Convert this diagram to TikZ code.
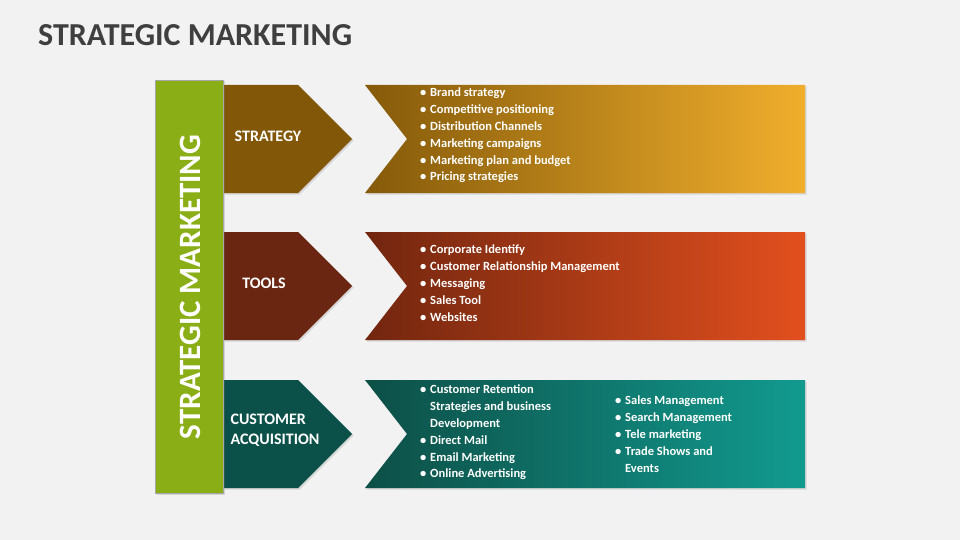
\documentclass[tikz,border=0pt]{standalone}
\usepackage{fontspec}
\setmainfont{Carlito}
\usetikzlibrary{shadows}
\definecolor{bg}{HTML}{F2F2F2}
\definecolor{titlec}{HTML}{3F3F3F}
\definecolor{sL}{HTML}{825808}
\definecolor{sA}{HTML}{855A0A}
\definecolor{sB}{HTML}{F0AE2C}
\definecolor{tL}{HTML}{6A2610}
\definecolor{tA}{HTML}{72260F}
\definecolor{tB}{HTML}{E24F1E}
\definecolor{cL}{HTML}{0C5149}
\definecolor{cA}{HTML}{0D4F47}
\definecolor{cB}{HTML}{129A8F}
\definecolor{gbar}{HTML}{8AAE16}
\newcommand{\bul}[1]{\makebox[10pt][l]{•}#1\\}
\newcommand{\cont}[1]{\hspace*{10pt}#1\\}
\tikzset{
  lbl/.style={text=white,font=\bfseries\fontsize{16}{19}\selectfont},
  lst/.style={text=white,font=\bfseries\fontsize{12.5}{16.8}\selectfont,align=left,anchor=north west,inner sep=0pt},
  shd/.style={drop shadow={shadow xshift=1.5pt,shadow yshift=-1.5pt,opacity=0.25}}
}
\begin{document}
\begin{tikzpicture}[x=1pt,y=-1pt]
\fill[bg] (0,0) rectangle (960,540);
\useasboundingbox (0,0) rectangle (960,540);
\node[anchor=west,text=titlec,font=\bfseries\fontsize{32}{36}\selectfont,inner sep=0pt] (title) at (38,35) {STRATEGIC MARKETING};
% rows
\foreach \y/\L/\A/\B in {85/sL/sA/sB,232/tL/tA/tB,380/cL/cA/cB}{
  \fill[\L,shd] (223,\y) -- (298,\y) -- (352,\y+54) -- (298,\y+108) -- (223,\y+108) -- cycle;
  \shade[left color=\A,right color=\B,shd] (365,\y) -- (805,\y) -- (805,\y+108) -- (365,\y+108) -- (407,\y+54) -- cycle;
}
\fill[gbar,draw=gray!70,line width=0.8pt,shd] (155,80) rectangle (223,493);
\node[rotate=90,text=white,font=\bfseries\fontsize{31}{36}\selectfont] (vt) at (190,287) {STRATEGIC MARKETING};
\node[lbl] (s) at (268,136) {STRATEGY};
\node[lbl] (t) at (264,283) {TOOLS};
\node[lbl,align=left,anchor=west,font=\bfseries\fontsize{16}{20}\selectfont] (c) at (227,430) {CUSTOMER\\ACQUISITION};
\node[lst] (l1) at (420,88) {\bul{Brand strategy}\bul{Competitive positioning}\bul{Distribution Channels}\bul{Marketing campaigns}\bul{Marketing plan and budget}\bul{Pricing strategies}};
\node[lst] (l2) at (420,245) {\bul{Corporate Identify}\bul{Customer Relationship Management}\bul{Messaging}\bul{Sales Tool}\bul{Websites}};
\node[lst] (l3) at (420,385) {\bul{Customer Retention}\cont{Strategies and business}\cont{Development}\bul{Direct Mail}\bul{Email Marketing}\bul{Online Advertising}};
\node[lst] (l4) at (615,396) {\bul{Sales Management}\bul{Search Management}\bul{Tele marketing}\bul{Trade Shows and}\cont{Events}};
\end{tikzpicture}
\end{document}
